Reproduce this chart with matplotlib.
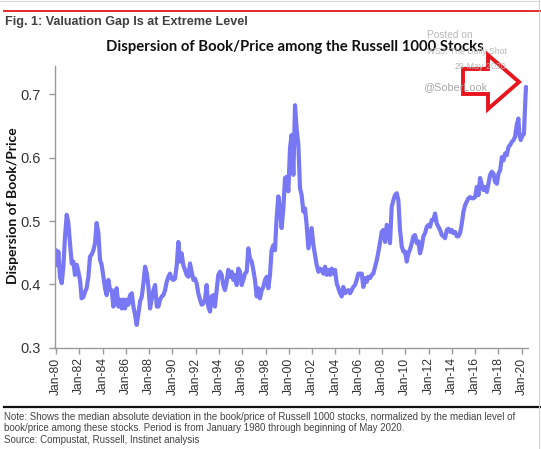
import matplotlib
matplotlib.use("Agg")
import matplotlib.pyplot as plt
from matplotlib.lines import Line2D
from matplotlib.patches import Polygon

# ---- data (decimal year, dispersion) ----
years = [
    1980.00, 1980.11, 1980.20, 1980.34, 1980.49, 1980.63, 1980.77, 1980.92, 1981.06, 1981.20,
    1981.35, 1981.49, 1981.63, 1981.78, 1981.92, 1982.06, 1982.20, 1982.35, 1982.49, 1982.63,
    1982.78, 1982.92, 1983.06, 1983.21, 1983.35, 1983.49, 1983.64, 1983.78, 1983.92, 1984.07,
    1984.21, 1984.35, 1984.50, 1984.64, 1984.78, 1984.93, 1985.07, 1985.21, 1985.36, 1985.50,
    1985.65, 1985.79, 1985.93, 1986.08, 1986.22, 1986.36, 1986.51, 1986.65, 1986.79, 1986.93,
    1987.08, 1987.22, 1987.37, 1987.51, 1987.65, 1987.80, 1987.94, 1988.08, 1988.23, 1988.37,
    1988.51, 1988.66, 1988.80, 1988.94, 1989.08, 1989.23, 1989.37, 1989.51, 1989.65,
    1989.79, 1989.94, 1990.08, 1990.22, 1990.37, 1990.51, 1990.65, 1990.79, 1990.94, 1991.08,
    1991.22, 1991.37, 1991.51, 1991.65, 1991.80, 1991.94, 1992.08, 1992.22, 1992.37, 1992.51,
    1992.66, 1992.80, 1992.94, 1993.08, 1993.23, 1993.37, 1993.51, 1993.65, 1993.80, 1993.94,
    1994.08, 1994.23, 1994.37, 1994.51, 1994.66, 1994.80, 1994.94, 1995.09, 1995.23, 1995.37,
    1995.52, 1995.66, 1995.80, 1995.95, 1996.09, 1996.23, 1996.38, 1996.52, 1996.66, 1996.81,
    1996.95, 1997.09, 1997.24, 1997.38, 1997.52, 1997.67, 1997.81, 1997.95, 1998.10, 1998.24,
    1998.38, 1998.52, 1998.67, 1998.81, 1998.95,
    1999.10, 1999.24, 1999.38, 1999.53, 1999.67, 1999.81, 1999.96, 2000.10, 2000.24, 2000.39,
    2000.53, 2000.67, 2000.82, 2000.96, 2001.10, 2001.25, 2001.39, 2001.53, 2001.68, 2001.82,
    2001.96, 2002.11, 2002.25, 2002.39, 2002.54, 2002.68, 2002.82, 2002.96, 2003.11, 2003.25,
    2003.39, 2003.54, 2003.68, 2003.82, 2003.97, 2004.11, 2004.25, 2004.40, 2004.54, 2004.68,
    2004.83, 2004.97, 2005.11, 2005.26, 2005.40, 2005.54, 2005.69, 2005.83, 2005.97, 2006.12,
    2006.26, 2006.40, 2006.55, 2006.69, 2006.83, 2006.98, 2007.12, 2007.26, 2007.41, 2007.55,
    2007.69, 2007.84, 2007.98, 2008.12, 2008.27, 2008.41, 2008.55,
    2008.69, 2008.84, 2008.98, 2009.12, 2009.27, 2009.41, 2009.55, 2009.70, 2009.84, 2009.98,
    2010.13, 2010.27, 2010.41, 2010.56, 2010.70, 2010.84, 2010.99, 2011.13, 2011.27, 2011.42,
    2011.56, 2011.70, 2011.85, 2011.99, 2012.13, 2012.28, 2012.42, 2012.56, 2012.71, 2012.85,
    2012.99, 2013.14, 2013.28, 2013.42, 2013.57, 2013.71, 2013.85, 2014.00, 2014.14, 2014.28,
    2014.43, 2014.57, 2014.71, 2014.86, 2015.00, 2015.14, 2015.29, 2015.43, 2015.57, 2015.72,
    2015.86, 2016.00, 2016.15, 2016.29, 2016.43, 2016.58, 2016.72, 2016.86, 2017.01, 2017.15,
    2017.29, 2017.44, 2017.58, 2017.72, 2017.87, 2018.01, 2018.15, 2018.30, 2018.44, 2018.58,
    2018.72, 2018.87, 2019.01, 2019.15, 2019.30,
    2019.43, 2019.58, 2019.72, 2019.80, 2019.92, 2020.09, 2020.20, 2020.29, 2020.37, 2020.45,
]
dispersion = [
    0.454, 0.430, 0.452, 0.412, 0.402, 0.428, 0.475, 0.510, 0.497, 0.465,
    0.433, 0.436, 0.415, 0.431, 0.420, 0.407, 0.378, 0.380, 0.388, 0.394,
    0.412, 0.444, 0.447, 0.454, 0.465, 0.497, 0.481, 0.439, 0.431, 0.412,
    0.394, 0.383, 0.407, 0.391, 0.391, 0.365, 0.386, 0.394, 0.365, 0.376,
    0.362, 0.376, 0.362, 0.376, 0.368, 0.383, 0.386, 0.365, 0.352, 0.336,
    0.354, 0.373, 0.381, 0.402, 0.428, 0.417, 0.396, 0.362, 0.378, 0.391,
    0.399, 0.365, 0.365, 0.376, 0.381, 0.383, 0.391, 0.404, 0.412,
    0.417, 0.409, 0.407, 0.409, 0.430, 0.467, 0.436, 0.449, 0.430, 0.423,
    0.415, 0.412, 0.433, 0.420, 0.407, 0.409, 0.402, 0.386, 0.376, 0.368,
    0.370, 0.376, 0.399, 0.365, 0.357, 0.381, 0.383, 0.365, 0.391, 0.415,
    0.420, 0.415, 0.399, 0.391, 0.404, 0.423, 0.412, 0.420, 0.407, 0.415,
    0.399, 0.425, 0.420, 0.399, 0.407, 0.417, 0.420, 0.457, 0.441, 0.436,
    0.423, 0.407, 0.381, 0.394, 0.378, 0.391, 0.396, 0.407, 0.412, 0.394,
    0.415, 0.454, 0.462, 0.454, 0.505,
    0.539, 0.520, 0.489, 0.520, 0.568, 0.570, 0.547, 0.615, 0.636, 0.573,
    0.683, 0.646, 0.620, 0.552, 0.541, 0.515, 0.520, 0.494, 0.457, 0.473,
    0.489, 0.462, 0.446, 0.431, 0.420, 0.425, 0.423, 0.417, 0.428, 0.415,
    0.423, 0.415, 0.425, 0.417, 0.423, 0.402, 0.394, 0.386, 0.381, 0.396,
    0.386, 0.389, 0.391, 0.386, 0.391, 0.396, 0.399, 0.407, 0.417, 0.417,
    0.417, 0.396, 0.410, 0.404, 0.412, 0.410, 0.415, 0.417, 0.428, 0.438,
    0.451, 0.467, 0.483, 0.486, 0.467, 0.494, 0.491,
    0.465, 0.523, 0.533, 0.541, 0.544, 0.533, 0.486, 0.460, 0.452, 0.452,
    0.436, 0.449, 0.455, 0.465, 0.476, 0.478, 0.465, 0.468, 0.449, 0.460,
    0.476, 0.481, 0.491, 0.494, 0.491, 0.502, 0.502, 0.512, 0.496, 0.491,
    0.486, 0.478, 0.476, 0.473, 0.486, 0.488, 0.483, 0.486, 0.481, 0.483,
    0.476, 0.476, 0.481, 0.496, 0.515, 0.525, 0.531, 0.536, 0.538, 0.536,
    0.536, 0.538, 0.554, 0.541, 0.568, 0.557, 0.549, 0.554, 0.546, 0.559,
    0.573, 0.578, 0.575, 0.562, 0.559, 0.575, 0.580, 0.601, 0.596, 0.607,
    0.604, 0.617, 0.620, 0.625, 0.628,
    0.633, 0.652, 0.662, 0.638, 0.628, 0.636, 0.638, 0.680, 0.712, 0.709,
]

x_tick_years = [1980, 1982, 1984, 1986, 1988, 1990, 1992, 1994, 1996, 1998, 2000,
                2002, 2004, 2006, 2008, 2010, 2012, 2014, 2016, 2018, 2020]
x_tick_labels = ["Jan-80", "Jan-82", "Jan-84", "Jan-86", "Jan-88", "Jan-90", "Jan-92",
                 "Jan-94", "Jan-96", "Jan-98", "Jan-00", "Jan-02", "Jan-04", "Jan-06",
                 "Jan-08", "Jan-10", "Jan-12", "Jan-14", "Jan-16", "Jan-18", "Jan-20"]
y_ticks = [0.3, 0.4, 0.5, 0.6, 0.7]
y_tick_labels = ["0.3", "0.4", "0.5", "0.6", "0.7"]

fig_title = "Fig. 1: Valuation Gap Is at Extreme Level"
chart_title = "Dispersion of Book/Price among the Russell 1000 Stocks"
y_label = "Dispersion of Book/Price"
note_lines = [
    "Note: Shows the median absolute deviation in the book/price of Russell 1000 stocks, normalized by the median level of",
    "book/price among these stocks. Period is from January 1980 through beginning of May 2020.",
    "Source: Compustat, Russell, Instinet analysis",
]

W, H = 541, 449
fig = plt.figure(figsize=(W / 100, H / 100), dpi=100)
fig.patch.set_facecolor("white")


def fx(px):
    return px / W


def fy(py):
    return 1 - py / H


ax = fig.add_axes([fx(54.5), fy(347.7), fx(527.7) - fx(54.5), fy(66) - fy(347.7)])
ax.plot(years, dispersion, color="#7878F5", lw=3.0, solid_joinstyle="round",
        solid_capstyle="round")
ax.set_xlim(1979.87, 2020.52)
ax.set_ylim(0.3, 0.745)
for s in ["top", "right"]:
    ax.spines[s].set_visible(False)
for s in ["left", "bottom"]:
    ax.spines[s].set_color("#9a9a9a")
    ax.spines[s].set_linewidth(1.0)
ax.set_xticks(x_tick_years)
ax.set_xticklabels(x_tick_labels, rotation=90, fontsize=8.7, family="Liberation Sans",
                   color="#333333")
ax.set_yticks(y_ticks)
ax.set_yticklabels(y_tick_labels, fontsize=10.5, family="Liberation Sans", color="#333333")
ax.tick_params(axis="both", direction="out", length=4, width=1, color="#9a9a9a")
ax.tick_params(axis="y", pad=6)
ax.tick_params(axis="x", pad=3)
ax.set_facecolor("white")

# y label
fig.text(fx(13.5), fy(206), y_label, rotation=90, ha="center", va="center",
         fontsize=10, fontweight="bold", family="Lato", color="#111111")

# titles
fig.text(fx(5), fy(22.5), fig_title, ha="left", va="center", fontsize=9.1,
         fontweight="bold", family="Liberation Sans", color="#404040")
fig.text(fx(295), fy(47), chart_title, ha="center", va="center", fontsize=10.7,
         fontweight="bold", family="Lato", color="#111111")

# watermark
fig.text(fx(427), fy(35.5), "Posted on", ha="left", va="center", fontsize=7.3,
         family="Liberation Sans", color="#b8b8b8")
fig.text(fx(427), fy(52), "WSJ. The Daily Shot", ha="left", va="center", fontsize=6.2,
         family="Liberation Sans", color="#b8b8b8")
fig.text(fx(455), fy(66.5), "29-May-2020", ha="left", va="center", fontsize=6.3,
         family="Liberation Sans", color="#b8b8b8")
fig.text(fx(423), fy(87), "@SoberLook", ha="left", va="center", fontsize=7.8,
         family="Liberation Sans", color="#a8a8a8")

# red arrow outline
arrow_px = [(463, 69), (488, 69), (488, 55), (519, 82), (488, 109), (488, 94), (463, 94)]
fig.patches.append(Polygon([(fx(a), fy(b)) for a, b in arrow_px], closed=True, fill=False,
                           edgecolor="#E8141E", lw=2.8, joinstyle="miter",
                           transform=fig.transFigure, figure=fig))

# decorative rules
fig.add_artist(Line2D([fx(3.5), 1], [fy(10.5), fy(10.5)], color="#E02A2A", lw=1.4))
fig.add_artist(Line2D([fx(4), 1], [fy(407), fy(407)], color="#111111", lw=1.6))
fig.add_artist(Line2D([fx(538.5), fx(538.5)], [0, 1], color="#d0d0d0", lw=0.8))
fig.add_artist(Line2D([0, fx(538.5)], [fy(0.5), fy(0.5)], color="#d8d8d8", lw=0.8))

# notes
for i, line in enumerate(note_lines):
    fig.text(fx(4), fy(416.5 + 11.8 * i), line, ha="left", va="center", fontsize=7.0,
             family="Liberation Sans", color="#444444")

fig.savefig("out.png", dpi=100, facecolor="white")
